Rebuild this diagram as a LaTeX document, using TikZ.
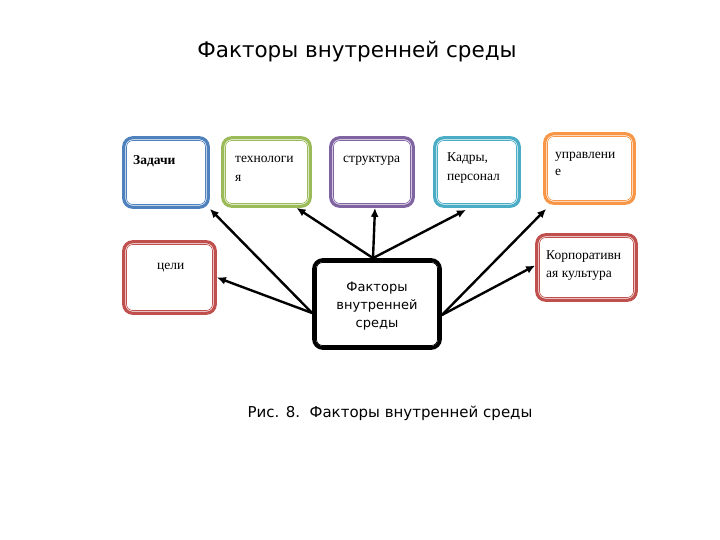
\documentclass[tikz,border=0pt]{standalone}
\usepackage{fontspec}
\setmainfont{Liberation Serif}
\newfontfamily\sansf{DejaVu Sans}
\usetikzlibrary{arrows.meta}
\definecolor{cblue}{HTML}{4F81BD}
\definecolor{cgreen}{HTML}{9BBB59}
\definecolor{cpurple}{HTML}{8064A2}
\definecolor{ccyan}{HTML}{4BACC6}
\definecolor{corange}{HTML}{F79646}
\definecolor{cred}{HTML}{C0504D}
\tikzset{
  fbox/.style={draw=#1, line width=3.2pt, rounded corners=9pt, fill=white, inner sep=0pt},
  inbox/.style={draw=#1, line width=0.7pt, rounded corners=6pt},
  lbl/.style={font=\fontsize{13.5}{19}\selectfont, anchor=north west, inner sep=0pt, align=left},
  arr/.style={line width=2.4pt, -{Latex[length=9pt,width=8pt]}},
}
\newcommand{\innerframe}[2]{\draw[inbox=#2] ([shift={(4.4pt,-4.4pt)}]#1.north west) rectangle ([shift={(-4.4pt,4.4pt)}]#1.south east);}
\begin{document}
\begin{tikzpicture}[x=1pt,y=-1pt]
\useasboundingbox (0,0) rectangle (720,540);
% title
\node[font=\sansf\fontsize{21.5}{24}\selectfont, anchor=base, inner sep=0pt] (title) at (357,58) {Факторы внутренней среды};
% boxes
\node[fbox=cblue, minimum width=84.5pt, minimum height=69.5pt] (b1) at (166,172.5) {};
\node[fbox=cgreen, minimum width=87.5pt, minimum height=68.5pt] (b2) at (266.5,172) {};
\node[fbox=cpurple, minimum width=82.5pt, minimum height=68.5pt] (b3) at (372,172) {};
\node[fbox=ccyan, minimum width=84.5pt, minimum height=68.5pt] (b4) at (477,172) {};
\node[fbox=corange, minimum width=89.5pt, minimum height=69.5pt] (b5) at (589.5,168.5) {};
\node[fbox=cred, minimum width=91.5pt, minimum height=71.5pt] (b6) at (169.5,277.5) {};
\node[fbox=cred, minimum width=99.5pt, minimum height=65.5pt] (b7) at (586.5,267.5) {};
\node[fbox=black, line width=3.8pt, minimum width=126pt, minimum height=88pt] (c) at (377,304) {};
\innerframe{b1}{cblue}
\innerframe{b2}{cgreen}
\innerframe{b3}{cpurple}
\innerframe{b4}{ccyan}
\innerframe{b5}{corange}
\innerframe{b6}{cred}
\innerframe{b7}{cred}
\innerframe{c}{black}
% labels (top of strut = baseline - 13.3)
\node[lbl] (t1) at (133,150.7) {\strut\textbf{Задачи}};
\node[lbl] (t2) at (235,148.7) {\strut технологи\\я};
\node[lbl] (t3) at (343,148.7) {\strut структура};
\node[lbl] (t4) at (447,148.2) {\strut Кадры,\\персонал};
\node[lbl, font=\fontsize{13.5}{17}\selectfont] (t5) at (555,146.2) {\strut управлени\\е};
\node[lbl] (t6) at (157,255.7) {\strut цели};
\node[lbl, font=\fontsize{13.5}{18}\selectfont] (t7) at (546,246.2) {\strut Корпоративн\\ая культура};
\node[font=\sansf\fontsize{13}{18}\selectfont, align=center, inner sep=0pt] (ct) at (377,306) {Факторы\\внутренней\\среды};
% connectors
\coordinate (cl) at ([yshift=-9pt]c.west);
\coordinate (ctp) at ([xshift=-4pt]c.north);
\coordinate (cr) at ([yshift=-11pt]c.east);
\draw[arr] (cl) -- (b1.south east);
\draw[arr] (cl) -- (b6.east);
\draw[arr] (ctp) -- ([xshift=30pt]b2.south);
\draw[arr] (ctp) -- ([xshift=3pt]b3.south);
\draw[arr] (ctp) -- ([xshift=-11pt,yshift=-2pt]b4.south);
\draw[arr] (cr) -- ([xshift=3pt,yshift=-4pt]b5.south west);
\draw[arr] (cr) -- ([yshift=2pt]b7.west);
% caption
\node[font=\sansf\fontsize{15}{18}\selectfont, anchor=base, inner sep=0pt] (cap) at (390,417) {Рис. 8.\ \ Факторы внутренней среды};
\end{tikzpicture}
\end{document}
